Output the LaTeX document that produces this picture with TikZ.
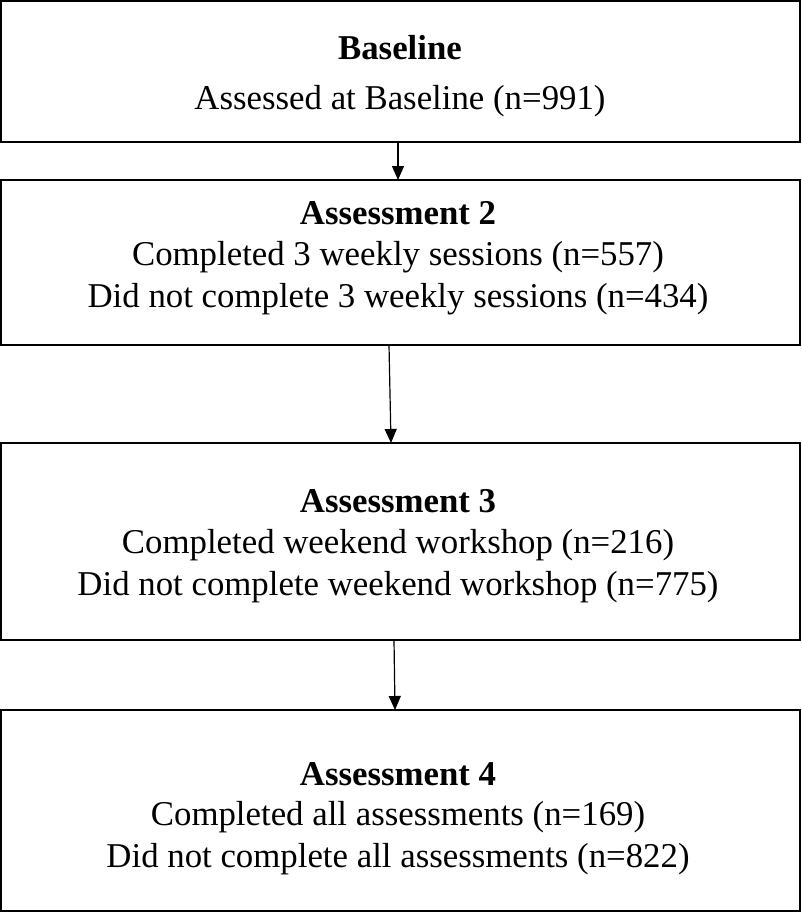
\documentclass[tikz,border=0pt]{standalone}
\usepackage{fontspec}
\setmainfont{Liberation Serif}
\usetikzlibrary{arrows.meta}
\begin{document}
\begin{tikzpicture}[x=1pt,y=-1pt,
  boxstyle/.style={draw,line width=1.5pt},
  txt/.style={font=\fontsize{34.8}{40}\selectfont,anchor=base},
  arr/.style={draw,line width=1.2pt,-{Triangle[length=14pt,width=12pt]}}]
\useasboundingbox (0,0) rectangle (802,913);
\draw[boxstyle] (1,1) rectangle (800,142);
\node[txt] (b1) at (400,59) {\textbf{Baseline}};
\node[txt] (b2) at (400,109) {Assessed at Baseline (n=991)};
\draw[boxstyle] (1,180) rectangle (800,345);
\node[txt] (a21) at (398,224) {\textbf{Assessment 2}};
\node[txt] (a22) at (398,265) {Completed 3 weekly sessions (n=557)};
\node[txt] (a23) at (398,307) {Did not complete 3 weekly sessions (n=434)};
\draw[boxstyle] (1,443) rectangle (800,640);
\node[txt] (a31) at (398,512) {\textbf{Assessment 3}};
\node[txt] (a32) at (398,553) {Completed weekend workshop (n=216)};
\node[txt] (a33) at (398,595) {Did not complete weekend workshop (n=775)};
\draw[boxstyle] (1,710) rectangle (800,911);
\node[txt] (a41) at (398,785) {\textbf{Assessment 4}};
\node[txt] (a42) at (398,825) {Completed all assessments (n=169)};
\node[txt] (a43) at (398,867) {Did not complete all assessments (n=822)};
\coordinate (p1) at (398,142); \coordinate (q1) at (398,180);
\coordinate (p2) at (389,345); \coordinate (q2) at (391,443);
\coordinate (p3) at (394,640); \coordinate (q3) at (395,710);
\draw[arr] (p1) -- (q1);
\draw[arr] (p2) -- (q2);
\draw[arr] (p3) -- (q3);
\end{tikzpicture}
\end{document}
